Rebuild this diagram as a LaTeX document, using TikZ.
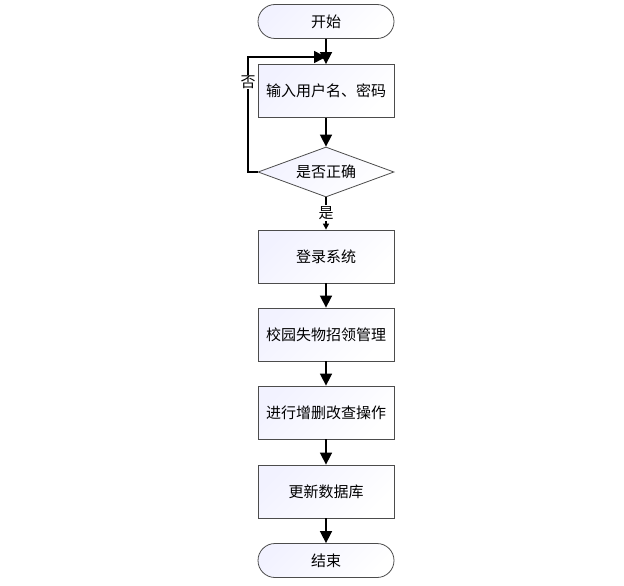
\documentclass[tikz,border=0pt]{standalone}
\usepackage{fontspec}
\setmainfont{Noto Sans CJK SC}
\usetikzlibrary{shapes.geometric,shapes.misc,arrows.meta}
\begin{document}
\begin{tikzpicture}[x=1pt,y=-1pt,
  every node/.style={font=\fontsize{15pt}{18pt}\selectfont, inner sep=0pt},
  boxfill/.style={draw=black!70, line width=0.8pt, top color=blue!5, bottom color=white, shading angle=45},
  procbox/.style={boxfill, rectangle, minimum width=136pt, minimum height=53pt},
  termbox/.style={boxfill, rounded rectangle, minimum width=136pt, minimum height=34pt},
  decbox/.style={boxfill, diamond, aspect=2.72, minimum width=136pt, minimum height=50pt},
  conn/.style={line width=1.6pt, -{Triangle[length=12pt,width=12pt]}},
  lbl/.style={font=\fontsize{15pt}{18pt}\selectfont, fill=white, inner sep=1pt}
]
\useasboundingbox (0,0) rectangle (624,586);
\node[termbox] (start) at (326,21.5) {开始};
\node[procbox] (input) at (326,91) {输入用户名、密码};
\node[decbox, draw=black!70] (dec) at (326,172) {是否正确};
\node[procbox] (login) at (326,256.5) {登录系统};
\node[procbox] (manage) at (326,334.5) {校园失物招领管理};
\node[procbox] (ops) at (326,412.5) {进行增删改查操作};
\node[procbox] (db) at (326,491.5) {更新数据库};
\node[termbox] (end) at (326,560.5) {结束};
\coordinate (loopA) at (248,172);
\coordinate (loopB) at (248,57);
\coordinate (loopC) at (326,57);
\draw[conn] (start) -- (input);
\draw[conn] (input) -- (dec);
\draw[line width=1.6pt] (dec.west) -- (loopA) -- (loopB) -- ([xshift=-8pt]loopC);
\draw[line width=1.6pt, -{Triangle[length=12pt,width=12pt]}] ([xshift=-20pt]loopC) -- (loopC);
\node[lbl] (no) at (248,82) {否};
\draw[line width=1.2pt, -{Triangle[length=6pt,width=6pt]}] (dec.south) -- (login.north);
\node[lbl] (yes) at (326,213) {是};
\draw[conn] (login) -- (manage);
\draw[conn] (manage) -- (ops);
\draw[conn] (ops) -- (db);
\draw[conn] (db) -- (end);
\end{tikzpicture}
\end{document}
